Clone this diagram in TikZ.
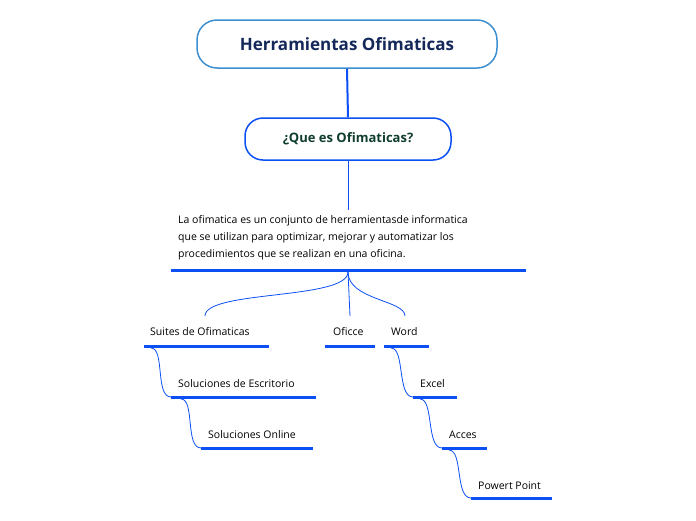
\documentclass[tikz,border=0pt]{standalone}
\usepackage{fontspec}
\setmainfont{Open Sans}
\definecolor{bl}{HTML}{0B4FF5}
\definecolor{lb}{HTML}{3D8FD0}
\definecolor{navy}{HTML}{14285A}
\definecolor{dgreen}{HTML}{0F3D2E}
\tikzset{
 lbl/.style={anchor=base west,font=\fontsize{10.5}{13}\selectfont,inner sep=0pt},
 ul/.style={draw=bl,line width=3pt},
 con/.style={draw=bl,line width=0.8pt},
}
\begin{document}
\begin{tikzpicture}[x=1pt,y=-1pt]
\useasboundingbox (0,0) rectangle (696,520);
\node[draw=lb,line width=1.5pt,rounded corners=20pt,minimum width=300pt,minimum height=48pt,font=\fontsize{17}{20}\bfseries\selectfont,text=navy] (t) at (347,44) {Herramientas Ofimaticas};
\node[draw=bl,line width=1.5pt,rounded corners=18pt,minimum width=206pt,minimum height=42pt,font=\fontsize{13}{16}\bfseries\selectfont,text=dgreen] (q) at (348,139) {¿Que es Ofimaticas?};
\draw[draw=bl,line width=2pt] (t.south) -- (q.north);
\node[anchor=north west,align=left,inner sep=0pt,font=\fontsize{10.5}{17}\selectfont] (d) at (178,215) {La ofimatica es un conjunto de herramientasde informatica\\que se utilizan para optimizar, mejorar y automatizar los\\procedimientos que se realizan en una oficina.};
\coordinate (dl) at (171,270); \coordinate (dr) at (526,270);
\draw[ul] (dl) -- (dr);
\coordinate (dm) at (348,272);
\draw[con] (q.south) -- (348,210);
% level 1
\node[lbl] (s) at (150,335) {Suites de Ofimaticas};
\coordinate (s1) at (144,346); \coordinate (s2) at (269,346);
\draw[ul] (s1) -- (s2);
\node[lbl] (o) at (333,335) {Oficce};
\coordinate (o1) at (325,346); \coordinate (o2) at (375,346);
\draw[ul] (o1) -- (o2);
\node[lbl] (w) at (391,335) {Word};
\coordinate (w1) at (384,346); \coordinate (w2) at (429,346);
\draw[ul] (w1) -- (w2);
\draw[con] (dm) .. controls (348,300) and (205,290) .. (205,316);
\draw[con] (dm) -- (350,316);
\draw[con] (dm) .. controls (348,300) and (405,300) .. (405,316);
% level 2
\node[lbl] (e) at (178,387) {Soluciones de Escritorio};
\coordinate (e1) at (171,397); \coordinate (e2) at (316,397);
\draw[ul] (e1) -- (e2);
\node[lbl] (n) at (208,438) {Soluciones Online};
\coordinate (n1) at (201,448); \coordinate (n2) at (313,448);
\draw[ul] (n1) -- (n2);
\node[lbl] (x) at (420,387) {Excel};
\coordinate (x1) at (413,397); \coordinate (x2) at (457,397);
\draw[ul] (x1) -- (x2);
\node[lbl] (a) at (449,438) {Acces};
\coordinate (a1) at (442,448); \coordinate (a2) at (487,448);
\draw[ul] (a1) -- (a2);
\node[lbl] (p) at (478,489) {Powert Point};
\coordinate (p1) at (471,498); \coordinate (p2) at (552,498);
\draw[ul] (p1) -- (p2);
% tree connectors
\draw[con] (151,348) .. controls (165,348) and (155,397) .. (e1);
\draw[con] (181,399) .. controls (195,399) and (185,448) .. (n1);
\draw[con] (391,348) .. controls (405,348) and (397,397) .. (x1);
\draw[con] (420,399) .. controls (434,399) and (426,448) .. (a1);
\draw[con] (449,450) .. controls (463,450) and (455,498) .. (p1);
\end{tikzpicture}
\end{document}
